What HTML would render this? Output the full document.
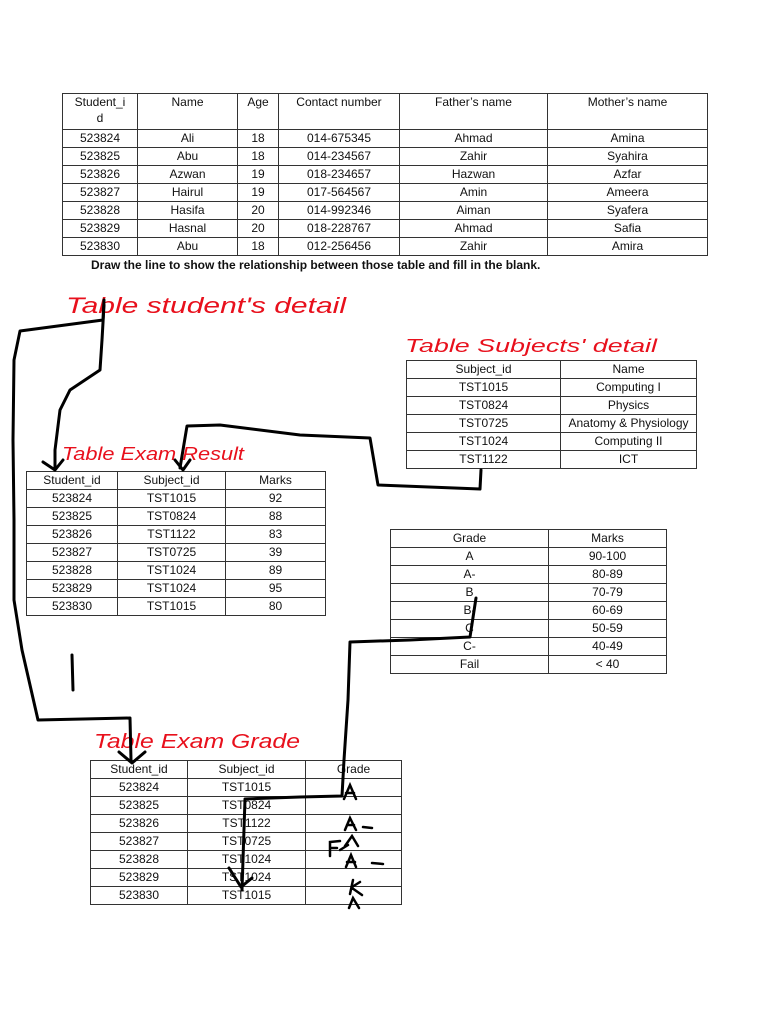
<!DOCTYPE html>
<html><head><meta charset="utf-8"><style>
body{margin:0;width:768px;height:1024px;background:#fff;position:relative;font-family:"Liberation Sans",sans-serif;font-size:12px;color:#111;overflow:hidden}
table{position:absolute;border-collapse:collapse;table-layout:fixed}
td{border:1px solid #333;text-align:center;padding:0;height:17px;line-height:17px;overflow:hidden;white-space:nowrap}
.h td{vertical-align:top}
svg{position:absolute;left:0;top:0}
.note{position:absolute;font-weight:bold;font-size:12px}
</style></head><body>
<table style="left:62px;top:93px;width:645px">
<colgroup><col style="width:75px"><col style="width:100px"><col style="width:41px"><col style="width:121px"><col style="width:148px"><col style="width:160px"></colgroup>
<tr class="h"><td style="height:35px;white-space:normal;line-height:16px">Student_i<br>d</td><td>Name</td><td>Age</td><td>Contact number</td><td>Father’s name</td><td>Mother’s name</td></tr>
<tr><td>523824</td><td>Ali</td><td>18</td><td>014-675345</td><td>Ahmad</td><td>Amina</td></tr>
<tr><td>523825</td><td>Abu</td><td>18</td><td>014-234567</td><td>Zahir</td><td>Syahira</td></tr>
<tr><td>523826</td><td>Azwan</td><td>19</td><td>018-234657</td><td>Hazwan</td><td>Azfar</td></tr>
<tr><td>523827</td><td>Hairul</td><td>19</td><td>017-564567</td><td>Amin</td><td>Ameera</td></tr>
<tr><td>523828</td><td>Hasifa</td><td>20</td><td>014-992346</td><td>Aiman</td><td>Syafera</td></tr>
<tr><td>523829</td><td>Hasnal</td><td>20</td><td>018-228767</td><td>Ahmad</td><td>Safia</td></tr>
<tr><td>523830</td><td>Abu</td><td>18</td><td>012-256456</td><td>Zahir</td><td>Amira</td></tr>
</table>
<div class="note" style="left:91px;top:258px">Draw the line to show the relationship between those table and fill in the blank.</div>

<table style="left:406px;top:360px;width:290px">
<colgroup><col style="width:154px"><col style="width:136px"></colgroup>
<tr><td>Subject_id</td><td>Name</td></tr>
<tr><td>TST1015</td><td>Computing I</td></tr>
<tr><td>TST0824</td><td>Physics</td></tr>
<tr><td>TST0725</td><td>Anatomy &amp; Physiology</td></tr>
<tr><td>TST1024</td><td>Computing II</td></tr>
<tr><td>TST1122</td><td>ICT</td></tr>
</table>

<table style="left:26px;top:471px;width:299px">
<colgroup><col style="width:91px"><col style="width:108px"><col style="width:100px"></colgroup>
<tr><td>Student_id</td><td>Subject_id</td><td>Marks</td></tr>
<tr><td>523824</td><td>TST1015</td><td>92</td></tr>
<tr><td>523825</td><td>TST0824</td><td>88</td></tr>
<tr><td>523826</td><td>TST1122</td><td>83</td></tr>
<tr><td>523827</td><td>TST0725</td><td>39</td></tr>
<tr><td>523828</td><td>TST1024</td><td>89</td></tr>
<tr><td>523829</td><td>TST1024</td><td>95</td></tr>
<tr><td>523830</td><td>TST1015</td><td>80</td></tr>
</table>

<table style="left:390px;top:529px;width:276px">
<colgroup><col style="width:158px"><col style="width:118px"></colgroup>
<tr><td>Grade</td><td>Marks</td></tr>
<tr><td>A</td><td>90-100</td></tr>
<tr><td>A-</td><td>80-89</td></tr>
<tr><td>B</td><td>70-79</td></tr>
<tr><td>B-</td><td>60-69</td></tr>
<tr><td>C</td><td>50-59</td></tr>
<tr><td>C-</td><td>40-49</td></tr>
<tr><td>Fail</td><td>&lt; 40</td></tr>
</table>

<table style="left:90px;top:760px;width:311px">
<colgroup><col style="width:97px"><col style="width:118px"><col style="width:96px"></colgroup>
<tr><td>Student_id</td><td>Subject_id</td><td>Grade</td></tr>
<tr><td>523824</td><td>TST1015</td><td></td></tr>
<tr><td>523825</td><td>TST0824</td><td></td></tr>
<tr><td>523826</td><td>TST1122</td><td></td></tr>
<tr><td>523827</td><td>TST0725</td><td></td></tr>
<tr><td>523828</td><td>TST1024</td><td></td></tr>
<tr><td>523829</td><td>TST1024</td><td></td></tr>
<tr><td>523830</td><td>TST1015</td><td></td></tr>
</table>

<svg width="768" height="1024" viewBox="0 0 768 1024">
<g fill="#e8101c" font-family="Liberation Sans,sans-serif" font-style="italic">
<text x="66" y="313" font-size="22" textLength="280" lengthAdjust="spacingAndGlyphs">Table  student's detail</text>
<text x="405" y="352" font-size="18" textLength="252" lengthAdjust="spacingAndGlyphs">Table  Subjects' detail</text>
<text x="62" y="460" font-size="18" textLength="182" lengthAdjust="spacingAndGlyphs">Table Exam Result</text>
<text x="94" y="748" font-size="20" textLength="206" lengthAdjust="spacingAndGlyphs">Table  Exam Grade</text>
</g>
<g fill="none" stroke="#000" stroke-width="3" stroke-linejoin="round" stroke-linecap="round">
<path d="M104,300 L103,320 L20,331 L14,360 L13,440 L14,520 L14,600 L22,650 L38,720 L130,718 L131,760"/>
<path d="M104,305 L102,340 L100,370 L70,390 L60,410 L55,450 L55,468"/>
<path d="M43,462 L55,470 L63,460"/>
<path d="M180,468 L187,426 L220,425 L300,435 L370,438 L378,485 L480,489 L481,470"/>
<path d="M175,460 L183,470 L190,460"/>
<path d="M72,655 L73,690"/>
<path d="M119,752 L132,763 L145,752"/>
<path d="M476,598 L470,637 L410,640 L350,642 L348,700 L344,760 L342,796 L300,797 L245,799 L242,890"/>
<path d="M229,868 L241,887 L252,878"/>
</g>
<g fill="none" stroke="#000" stroke-width="2.5" stroke-linecap="round">
<path d="M344,799 L350,785 L356,799 M346,793 L354,793"/>
<path d="M345,830 L350,818 L356,830 M347,825 L354,825 M363,827 L372,828"/>
<path d="M330,856 L330,842 L340,841 M330,848 L337,848 M345,846 L352,836 L358,846 M340,850 L348,845"/>
<path d="M346,867 L351,855 L356,867 M347,862 L355,862 M372,863 L383,864"/>
<path d="M350,894 L353,880 M352,887 L360,882 M352,888 L362,895"/>
<path d="M349,908 L353,898 L359,908"/>
</g>
</svg>
</body></html>
